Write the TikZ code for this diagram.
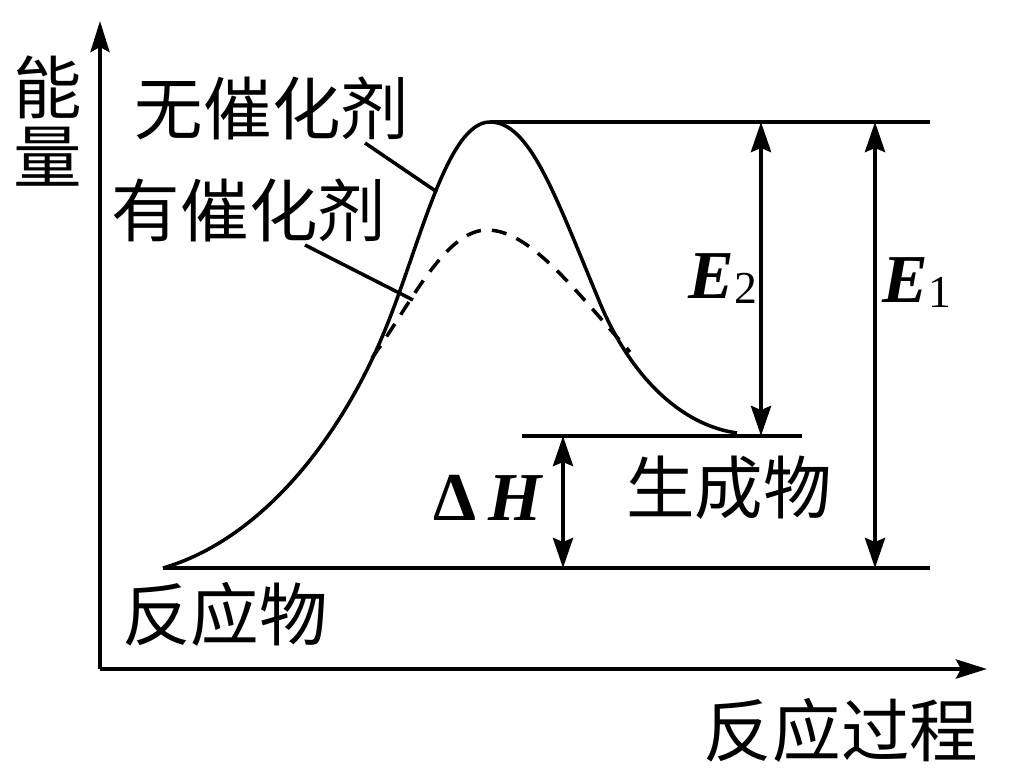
\documentclass[tikz,border=0pt]{standalone}
\usepackage{fontspec}
\setmainfont{Liberation Serif}
\newfontfamily\cjk{Noto Sans CJK SC}
\usetikzlibrary{arrows.meta}
\tikzset{
	heavyline/.style={line width=1.2pt, color=black},
	curveline/.style={line width=1pt, color=black},
	axisarrow/.style={heavyline, -{Stealth[length=3.1mm, width=1.9mm, inset=0.5mm]}},
	energyarrow/.style={heavyline, {Stealth[length=3mm, width=2mm, inset=0.4mm]}-{Stealth[length=3mm, width=2mm, inset=0.4mm]}},
	cnlabel/.style={inner sep=0pt, font=\cjk\fontsize{19.5}{19.5}\selectfont},
	symlabel/.style={inner sep=0pt, anchor=base west, font=\fontsize{19.5}{19.5}\selectfont}
}
\newcommand{\subnum}[1]{\raisebox{-1.5pt}{\fontsize{13}{13}\selectfont #1}}

\begin{document}
\begin{tikzpicture}
	%%%%% START %%%%%
	\useasboundingbox (0, 0) rectangle (10.36, 7.70);
	\fill[white] (0, 0) rectangle (10.36, 7.70);
	
	\coordinate (origin) at (1.00, 1.01);
	\coordinate (ytop) at (1.00, 7.49);
	\coordinate (xend) at (9.87, 1.01);
	\draw[axisarrow] (origin) -- (ytop);
	\draw[axisarrow] (origin) -- (xend);
	
	\coordinate (peakL) at (4.90, 6.48);
	\coordinate (peakR) at (9.30, 6.48);
	\coordinate (reactL) at (1.63, 2.02);
	\coordinate (reactR) at (9.30, 2.02);
	\coordinate (prodL) at (5.22, 3.34);
	\coordinate (prodR) at (8.02, 3.34);
	\draw[heavyline] (peakL) -- (peakR);
	\draw[heavyline] (reactL) -- (reactR);
	\draw[heavyline] (prodL) -- (prodR);
	
	% curves
	\draw[curveline] (reactL) .. controls (2.60, 2.30) and (3.40, 3.30) .. (3.85, 4.40)
		.. controls (4.20, 5.25) and (4.47, 6.48) .. (peakL)
		.. controls (5.30, 6.48) and (5.55, 5.75) .. (6.00, 4.67)
		.. controls (6.30, 3.95) and (6.80, 3.45) .. (7.37, 3.37);
	\draw[curveline, dash pattern=on 1.5mm off 1.1mm] (3.72, 4.12) .. controls (4.10, 4.65) and (4.45, 5.40) .. (4.87, 5.40)
		.. controls (5.30, 5.40) and (5.75, 4.80) .. (6.30, 4.18);
	
	% energies
	\coordinate (etwoT) at (7.61, 6.48);
	\coordinate (etwoB) at (7.61, 3.34);
	\coordinate (eoneT) at (8.75, 6.48);
	\coordinate (eoneB) at (8.75, 2.02);
	\coordinate (dhT) at (5.63, 3.34);
	\coordinate (dhB) at (5.63, 2.02);
	\draw[energyarrow] (etwoT) -- (etwoB);
	\draw[energyarrow] (eoneT) -- (eoneB);
	\draw[energyarrow] (dhT) -- (dhB);
	
	\node[symlabel] (etwo) at (6.88, 4.72) {\textbf{\textit{E}}\subnum{2}};
	\node[symlabel] (eone) at (8.82, 4.68) {\textbf{\textit{E}}\subnum{1}};
	\node[symlabel] (dh) at (4.33, 2.50) {\textbf{Δ}\,\textbf{\textit{H}}};
	
	% labels
	\node[cnlabel, align=center] (yname) at (0.48, 6.49) {能\\量};
	\node[cnlabel] (nocat) at (2.72, 6.62) {无催化剂};
	\node[cnlabel] (cat) at (2.49, 5.60) {有催化剂};
	\node[cnlabel] (product) at (7.29, 2.82) {生成物};
	\node[cnlabel] (reactant) at (2.25, 1.56) {反应物};
	\node[cnlabel] (xname) at (8.41, 0.40) {反应过程};
	
	\coordinate (nocatstart) at (3.65, 6.27);
	\coordinate (nocatend) at (4.37, 5.78);
	\coordinate (catstart) at (3.05, 5.25);
	\coordinate (catend) at (4.13, 4.70);
	\draw[curveline] (nocatstart) -- (nocatend);
	\draw[curveline] (catstart) -- (catend);
	%%%%% END %%%%%
\end{tikzpicture}
\end{document}
